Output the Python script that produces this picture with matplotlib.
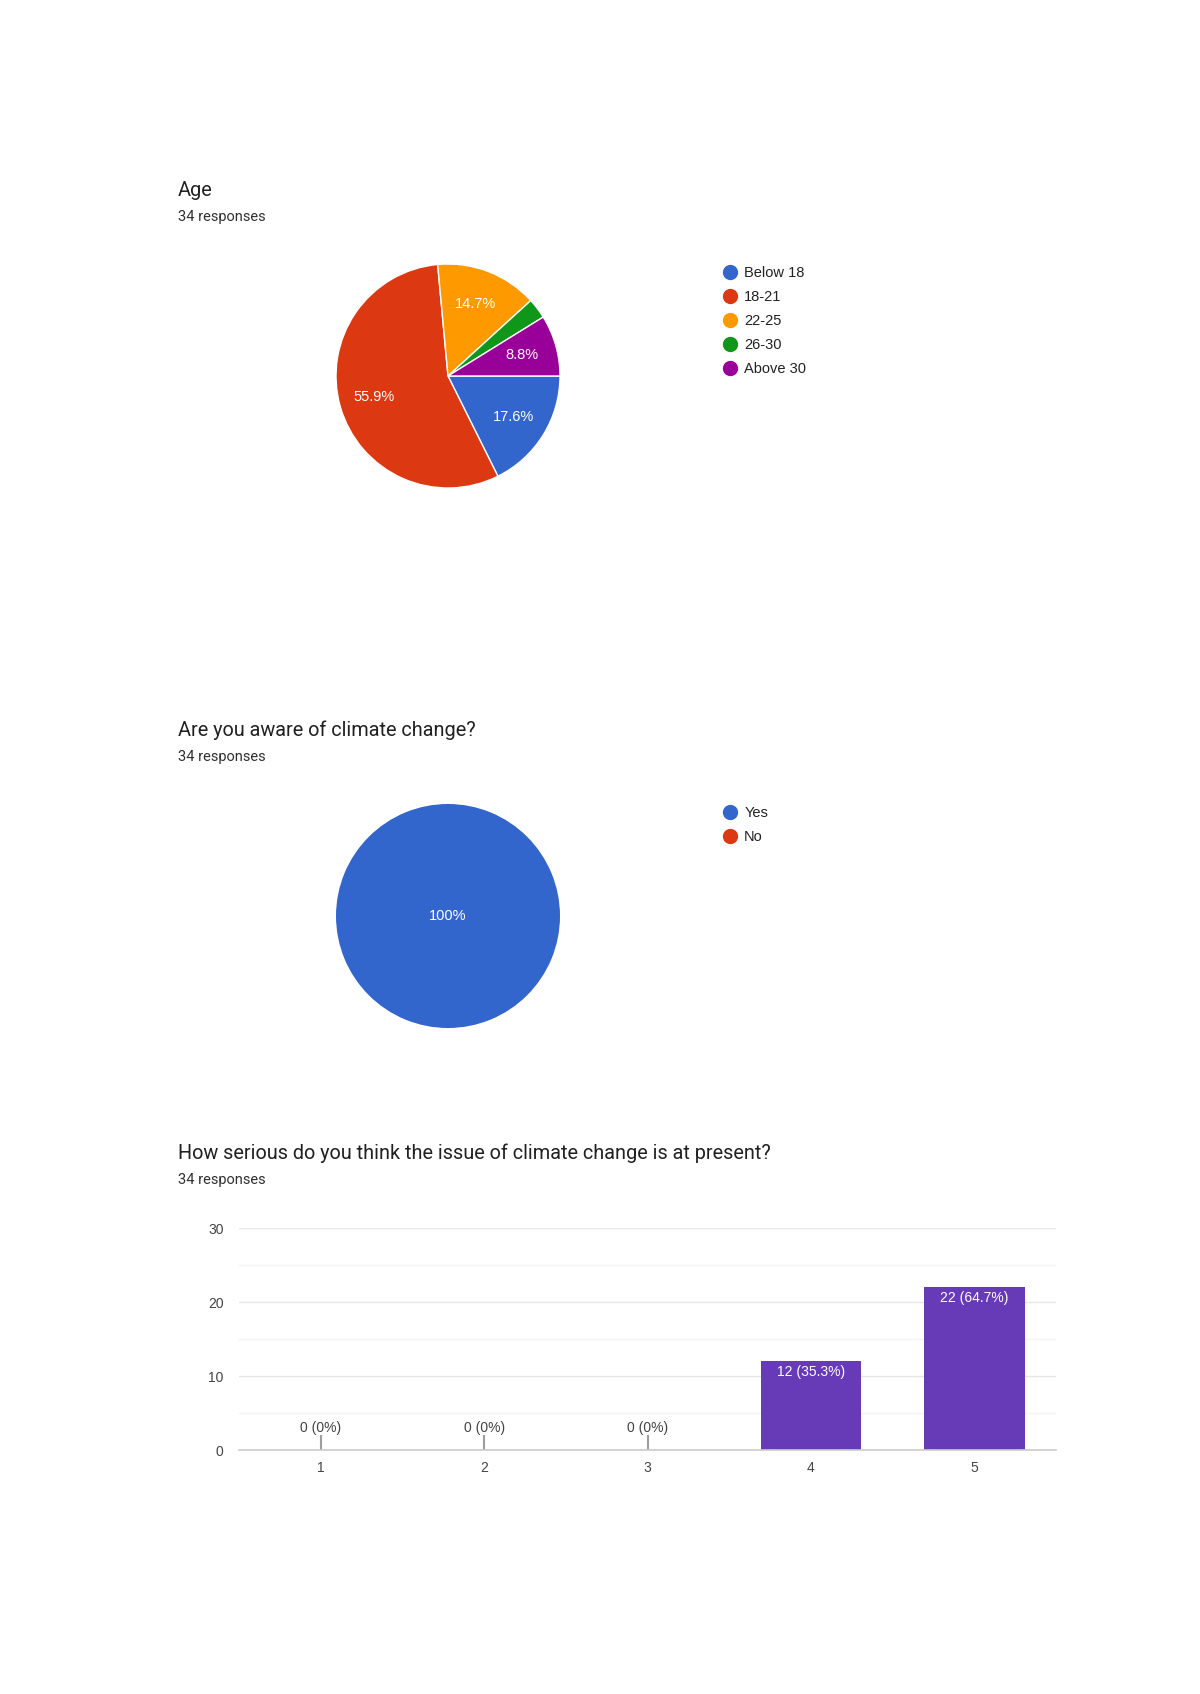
import numpy as np
import matplotlib.pyplot as plt
from matplotlib.lines import Line2D

plt.rcParams['font.family'] = ['Roboto', 'DejaVu Sans']
chart_font = ['Liberation Sans', 'DejaVu Sans']

# --- data ---
age_labels = ['Below 18', '18-21', '22-25', '26-30', 'Above 30']
age_counts = [6, 19, 5, 1, 3]
age_colors = ['#3366cc', '#dc3912', '#ff9900', '#109618', '#990099']

aware_labels = ['Yes', 'No']
aware_counts = [34, 0]
aware_colors = ['#3366cc', '#dc3912']

serious_cats = ['1', '2', '3', '4', '5']
serious_counts = [0, 0, 0, 12, 22]
n_responses = 34

W, H = 1200, 1694
fig = plt.figure(figsize=(W / 100, H / 100), dpi=100)
fig.patch.set_facecolor('white')

title_col = '#212121'
sub_col = '#303030'


def px_axes(x0, y0, w, h):
    # pixel box (top-left origin) -> figure axes
    return fig.add_axes([x0 / W, 1 - (y0 + h) / H, w / W, h / H])


def header(y_title, title):
    fig.text(178 / W, 1 - y_title / H, title, fontsize=14.3, color=title_col, va='center', ha='left')
    fig.text(178 / W, 1 - (y_title + 27) / H, f'{n_responses} responses', fontsize=10.5,
             color=sub_col, va='center', ha='left')


def legend(ax, labels, colors, x, y):
    handles = [Line2D([], [], marker='o', linestyle='', markersize=10, color=c) for c in colors]
    ax.legend(handles, labels, loc='upper left', bbox_to_anchor=(x / W, 1 - y / H),
              bbox_transform=fig.transFigure, frameon=False, handlelength=1,
              handletextpad=0.45, labelspacing=0.68, borderpad=0, borderaxespad=0,
              labelcolor='#222222', prop=dict(family=chart_font, size=10.5))


def pct_fmt(p):
    return '' if p < 5 else f'{p:.1f}%'


# --- Age pie ---
header(190, 'Age')
cx, cy, r = 448, 376, 112
ax1 = px_axes(cx - r, cy - r, 2 * r, 2 * r)
wedges, texts, autotexts = ax1.pie(age_counts, colors=age_colors, startangle=0, counterclock=False,
                                   radius=1, autopct=pct_fmt, pctdistance=0.69,
                                   wedgeprops=dict(edgecolor='white', linewidth=1),
                                   textprops=dict(color='white', fontsize=10.5, family=chart_font))
ax1.set_xlim(-1, 1)
ax1.set_ylim(-1, 1)
ax1.set_aspect('equal')
legend(ax1, age_labels, age_colors, 723, 266)

# --- Awareness pie ---
header(730, 'Are you aware of climate change?')
cx, cy = 448, 916
ax2 = px_axes(cx - r, cy - r, 2 * r, 2 * r)
ax2.pie([v for v in aware_counts if v > 0], colors=aware_colors[:1], startangle=90, counterclock=False,
        radius=1, autopct=lambda p: f'{p:.0f}%', pctdistance=0,
        wedgeprops=dict(edgecolor='white', linewidth=0),
        textprops=dict(color='white', fontsize=10.5, family=chart_font))
ax2.set_xlim(-1, 1)
ax2.set_ylim(-1, 1)
ax2.set_aspect('equal')
legend(ax2, aware_labels, aware_colors, 723, 806)

# --- Seriousness bar chart ---
header(1153, 'How serious do you think the issue of climate change is at present?')
ax3 = px_axes(239, 1228, 817, 222)
x = np.arange(1, len(serious_cats) + 1)
ax3.bar(x, serious_counts, width=0.615, color='#673ab7', zorder=3)
ax3.set_xlim(0.5, len(serious_cats) + 0.5)
ax3.set_ylim(0, 30)
ax3.set_yticks([0, 10, 20, 30])
ax3.set_yticks([5, 15, 25], minor=True)
ax3.set_xticks(x)
ax3.set_xticklabels(serious_cats)
ax3.grid(axis='y', which='major', color='#e6e6e6', lw=1, zorder=0)
ax3.grid(axis='y', which='minor', color='#f4f4f4', lw=1, zorder=0)
for s in ['top', 'right', 'left']:
    ax3.spines[s].set_visible(False)
ax3.spines['bottom'].set_color('#cccccc')
ax3.spines['bottom'].set_linewidth(1.2)
ax3.spines['bottom'].set_zorder(4)
ax3.tick_params(axis='y', which='both', length=0, pad=11, labelsize=10, labelcolor='#444444')
ax3.tick_params(axis='x', length=0, pad=8, labelsize=10, labelcolor='#444444')
for lbl in ax3.get_xticklabels() + ax3.get_yticklabels():
    lbl.set_family(chart_font)

for xi, v in zip(x, serious_counts):
    lab = f'{v} ({100 * v / n_responses:.1f}%)' if v else '0 (0%)'
    if v == 0:
        ax3.vlines(xi, 0, 2, color='#9e9e9e', lw=1.5, zorder=4)
        ax3.text(xi, 3, lab, ha='center', va='center', fontsize=10, color='#444444', family=chart_font)
    else:
        ax3.text(xi, v - 1.5, lab, ha='center', va='center', fontsize=10, color='white',
                 family=chart_font, zorder=5)

fig.savefig('out.png', dpi=100, facecolor='white')
